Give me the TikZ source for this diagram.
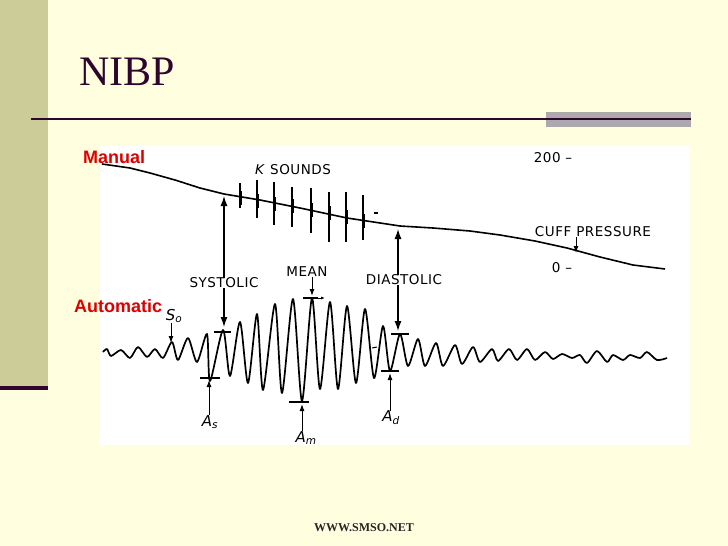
\documentclass[tikz,border=0pt]{standalone}
\usepackage{fontspec}
\setmainfont{Liberation Serif}
\setsansfont{Liberation Sans}
\newfontfamily\plotfont[LetterSpace=4]{DejaVu Sans}
\usetikzlibrary{arrows.meta}
\definecolor{slidebg}{RGB}{255,255,224}
\definecolor{sidebar}{RGB}{204,204,153}
\definecolor{titleink}{RGB}{45,5,45}
\definecolor{rulegrey}{RGB}{172,168,172}
\definecolor{labelred}{RGB}{221,0,0}
\tikzset{
    plotlbl/.style={inner sep=0pt, font=\plotfont\fontsize{13.5}{13.5}\selectfont},
    symlbl/.style={inner sep=0pt, font=\plotfont\fontsize{15}{15}\selectfont\itshape},
    redlbl/.style={inner sep=0pt, anchor=base west, text=labelred,
        font=\sffamily\bfseries\fontsize{18}{18}\selectfont},
    bigarrow/.style={line width=1.3pt, -{Latex[length=10pt,width=7pt]}},
    smallarrow/.style={line width=1pt, -{Latex[length=7pt,width=5pt]}},
    tickbar/.style={line width=1.4pt},
    trace/.style={line width=1.7pt, line join=round}
}

\begin{document}
\begin{tikzpicture}[x=1pt, y=-1pt]
        \useasboundingbox (0,0) rectangle (728,546);
        \fill[slidebg] (0,0) rectangle (728,546);
        \fill[sidebar] (0,0) rectangle (48,388);
        \fill[titleink] (0,386) rectangle (48,390);
        \fill[rulegrey] (546,112) rectangle (691,127);
        \draw[titleink, line width=2pt] (31,118.5) -- (691,118.5);
        \fill[white] (100,146) rectangle (690,445);
        \node[anchor=base west, inner sep=0pt, text=titleink,
              font=\fontsize{42}{42}\selectfont] (title) at (79,85) {NIBP};
        \node[redlbl] (man) at (83,163) {Manual};
        \node[redlbl] (aut) at (74,312) {Automatic};
        \node[inner sep=0pt, text=black!85, font=\bfseries\fontsize{12}{12}\selectfont]
            (site) at (364,528) {WWW.SMSO.NET};

        \draw[trace, line width=1.6pt] (102,164) -- (130,168) -- (150,173) -- (175,180)
            -- (200,188) -- (224,194) -- (260,200) -- (300,208) -- (347,218)
            -- (400,226) -- (433,228) -- (470,231) -- (500,235) -- (535,241)
            -- (567,248) -- (600,257) -- (633,265) -- (665,269);
        \foreach \x/\a/\b/\m in {240/183/208/198, 257/180/218/201, 274/182/225/204,
                                 292/187/227/206, 311/188/233/210, 329/192/242/213,
                                 346/192/242/217, 363/195/240/221} {
            \draw[line width=1.3pt] (\x,\a) -- (\x,\b);
            \draw[line width=3pt] (\x,\m-7) -- (\x,\m+7);
        }
        \draw[line width=1.2pt] (374,213) -- (378,213);

        \node[plotlbl] (ks) at (293,170) {\textit{K} SOUNDS};
        \node[plotlbl] (top) at (553,158) {200 \textendash};
        \node[plotlbl] (cuff) at (593,232) {CUFF PRESSURE};
        \node[plotlbl] (zero) at (562,268) {0 \textendash};
        \coordinate (cuffT) at (576,253);
        \draw[smallarrow] (cuff.south -| cuffT) -- (cuffT);

        \draw[trace] plot[smooth, tension=0.45] coordinates {
            (103,352) (107,349) (111,356) (121,350) (130,358) (138,347) (147,357)
            (155,349) (163,358) (172,342) (178,360) (188,338) (197,362) (207,334)
            (210,381) (223,330) (230,376) (240,322) (248,383) (257,314) (263,390)
            (275,304) (282,393) (293,299) (302,401) (312,298) (320,389) (330,302)
            (338,389) (347,306) (356,383) (365,309) (374,378) (383,326) (390,371)
            (400,334) (408,366) (418,339) (425,366) (436,343) (443,366) (455,345)
            (462,364) (473,347) (480,362) (492,349) (498,361) (509,349) (517,360)
            (527,349) (535,360) (545,352) (553,359) (562,354) (572,358) (580,355)
            (587,363) (597,351) (607,362) (613,355) (623,360) (630,355) (640,358)
            (647,352) (657,360) (667,358)};
        \draw[line width=1pt] (372,348) -- (377,347);

        \node[plotlbl] (sys) at (224,283) {SYSTOLIC};
        \node[plotlbl] (mean) at (307,272) {MEAN};
        \node[plotlbl] (dia) at (404,280) {DIASTOLIC};
        \coordinate (sysC) at (224,196);
        \coordinate (sysT) at (224,327);
        \coordinate (meanT) at (312,296);
        \coordinate (diaC) at (398,229);
        \coordinate (diaT) at (398,331);
        \draw[bigarrow] (sys.north) -- (sysC);
        \draw[bigarrow] (sys.south) -- (sysT);
        \draw[smallarrow] (mean.south -| meanT) -- (meanT);
        \draw[bigarrow] (dia.north -| diaC) -- (diaC);
        \draw[bigarrow] (dia.south -| diaT) -- (diaT);
        \draw[tickbar] (214,332) -- (231,332);
        \draw[tickbar] (303,298) -- (318,298);
        \draw[line width=1pt, -{Latex[length=4pt,width=3pt]}] (318,298) -- (325,298);
        \draw[tickbar] (391,334) -- (409,334);

        \node[symlbl] (so) at (174,316) {S\textsubscript{o}};
        \coordinate (soT) at (171,343);
        \draw[smallarrow] (so.south -| soT) -- (soT);

        \node[symlbl] (as) at (210,422) {A\textsubscript{s}};
        \node[symlbl] (am) at (306,438) {A\textsubscript{m}};
        \node[symlbl] (ad) at (391,418) {A\textsubscript{d}};
        \coordinate (asT) at (209,380);
        \coordinate (amT) at (302,404);
        \coordinate (adT) at (390,373);
        \draw[smallarrow] (as.north -| asT) -- (asT);
        \draw[smallarrow] (am.north -| amT) -- (amT);
        \draw[smallarrow] (ad.north -| adT) -- (adT);
        \draw[tickbar] (200,378) -- (220,378);
        \draw[tickbar] (289,402) -- (309,402);
        \draw[tickbar] (381,371) -- (399,371);
    \end{tikzpicture}
\end{document}
